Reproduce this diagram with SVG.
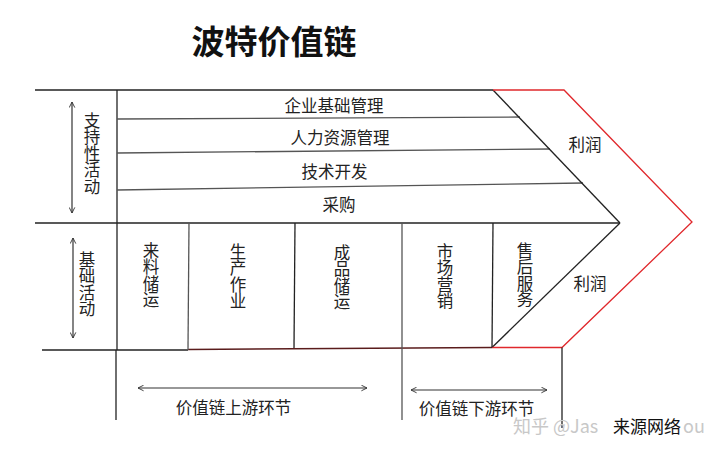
<svg xmlns="http://www.w3.org/2000/svg" width="719" height="458" viewBox="0 0 719 458">
<style>
.ln{stroke:#222;stroke-width:1.3;fill:none}
.gl{stroke:#555;stroke-width:1.3;fill:none}
.rd{stroke:#e0282c;stroke-width:1.3;fill:none}
.t{font-family:"Noto Sans CJK SC","Liberation Sans",sans-serif;font-size:16.5px;fill:#222}
.tm{text-anchor:middle}
.v{writing-mode:vertical-rl;text-orientation:upright;font-family:"Noto Sans CJK SC","Liberation Sans",sans-serif;font-size:16.5px;fill:#222}
.ar{stroke:#333;stroke-width:1.2;fill:none;marker-start:url(#ah);marker-end:url(#ah)}
</style>
<defs>
<marker id="ah" viewBox="0 0 10 10" refX="9" refY="5" markerWidth="7" markerHeight="7" markerUnits="userSpaceOnUse" orient="auto-start-reverse">
<path d="M1,1 L9,5 L1,9" fill="none" stroke="#333" stroke-width="1.3"/>
</marker>
</defs>
<rect width="719" height="458" fill="#fff"/>
<text x="274" y="54" class="tm" font-family="'Noto Sans CJK SC','Liberation Sans',sans-serif" font-size="33" font-weight="700" fill="#111">波特价值链</text>

<g id="connectors">
<line class="ln" x1="35" y1="90" x2="493" y2="90"/>
<line class="ln" x1="35" y1="223" x2="620" y2="223"/>
<line class="ln" x1="42" y1="350" x2="188" y2="350"/>
<line x1="188" y1="349.5" x2="492" y2="347.5" stroke="#5a1c1c" stroke-width="1.4"/>
<line class="ln" x1="117" y1="90" x2="117" y2="350"/>
<line class="ln" x1="116" y1="350" x2="116" y2="420"/>
<line class="gl" x1="117" y1="119" x2="520" y2="117"/>
<line class="gl" x1="117" y1="153" x2="550" y2="149"/>
<line class="gl" x1="117" y1="190" x2="583" y2="183"/>
<line class="ln" x1="493" y1="90" x2="620" y2="223"/>
<line class="ln" x1="620" y1="223" x2="492" y2="347.5"/>
<polyline class="rd" points="493,90 564,90 692,222 562,347.5 492,347.5"/>
<line class="gl" x1="189" y1="223" x2="188" y2="350"/>
<line class="ln" x1="295" y1="223" x2="294" y2="348"/>
<line class="gl" x1="402" y1="223" x2="402" y2="420"/>
<line class="ln" x1="493" y1="223" x2="492" y2="347.5"/>
<line class="ln" x1="562" y1="347.5" x2="562" y2="428"/>
<line class="ar" x1="72" y1="102" x2="72" y2="213"/>
<line class="ar" x1="73" y1="238" x2="73" y2="338"/>
<line class="ar" x1="138" y1="388" x2="367" y2="388"/>
<line class="ar" x1="411" y1="390" x2="547" y2="390"/>
</g>

<g id="support-label"><text class="v" x="92" y="112">支持性活动</text></g>
<g id="primary-label"><text class="v" x="87" y="251" font-size="17">基础活动</text></g>

<g id="firm-infrastructure"><text class="t tm" x="334" y="112" font-size="17">企业基础管理</text></g>
<g id="hr"><text class="t tm" x="340" y="144" font-size="17">人力资源管理</text></g>
<g id="tech"><text class="t tm" x="334.5" y="178" font-size="17">技术开发</text></g>
<g id="procurement"><text class="t tm" x="339" y="211" font-size="17">采购</text></g>
<g id="margin-top"><text class="t tm" x="585" y="151" font-size="17">利润</text></g>
<g id="margin-bottom"><text class="t tm" x="590" y="290" font-size="17">利润</text></g>

<g id="inbound"><text class="v" x="151" y="242">来料储运</text></g>
<g id="operations"><text class="v" x="238" y="243">生产作业</text></g>
<g id="outbound"><text class="v" x="342" y="244">成品储运</text></g>
<g id="marketing"><text class="v" x="445" y="243">市场营销</text></g>
<g id="service"><text class="v" x="525" y="242">售后服务</text></g>

<g id="upstream"><text class="t tm" x="233.5" y="414" font-size="17">价值链上游环节</text></g>
<g id="downstream"><text class="t tm" x="476.5" y="415" font-size="17">价值链下游环节</text></g>

<g id="watermark">
<text x="513" y="433" font-family="'Noto Sans CJK SC','Liberation Sans',sans-serif" font-size="18" fill="#c8c8c8">知乎 @Jas</text>
<text x="683" y="433" font-family="'Noto Sans CJK SC','Liberation Sans',sans-serif" font-size="18" fill="#c8c8c8">ou</text>
<text x="613" y="433" font-family="'Noto Sans CJK SC','Liberation Sans',sans-serif" font-size="17" fill="#111">来源网络</text>
</g>
</svg>
